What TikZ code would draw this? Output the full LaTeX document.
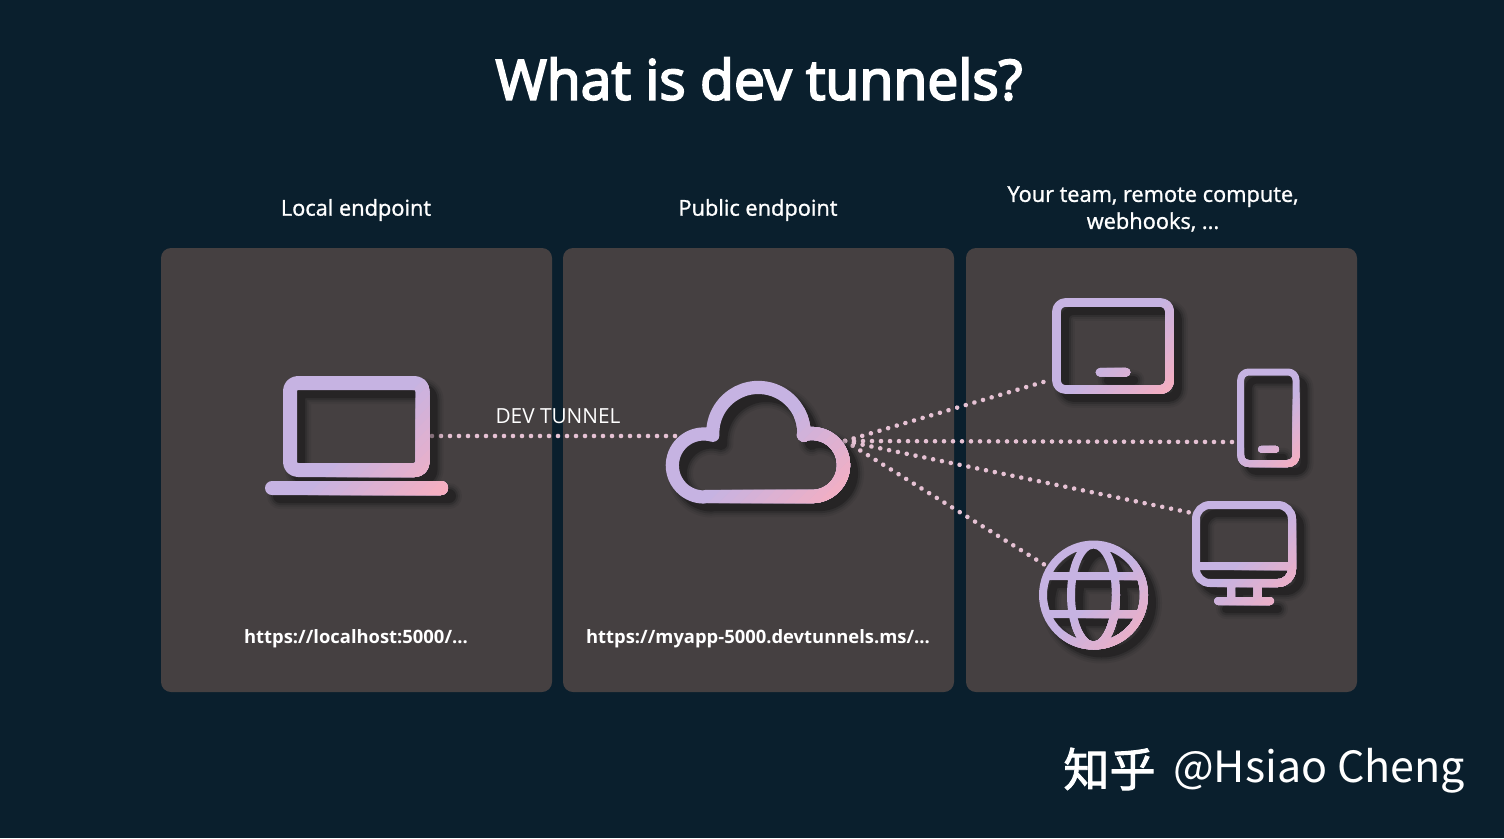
\documentclass[tikz,border=0pt]{standalone}
\usepackage{fontspec}
\setmainfont{Open Sans}
\newfontfamily\cnfont{Noto Sans CJK SC}
\newfontfamily\cnlogofont[FakeBold=2]{Noto Sans CJK SC}
\newfontfamily\semifont[FakeBold=3.5]{Open Sans}
\newfontfamily\capfont[FakeBold=1.2]{Open Sans}
\usetikzlibrary{positioning, decorations.markings}

\definecolor{bgdark}{HTML}{0A1F2D}
\definecolor{panelgray}{HTML}{454041}
\definecolor{lav}{HTML}{C6B3E2}
\definecolor{rose}{HTML}{FBAEBD}
\definecolor{dotpink}{HTML}{E6C2D4}

\tikzset{
    panel/.style={fill=panelgray, rounded corners=10pt},
    tunnel/.style={draw=none, postaction={decorate}, decoration={markings, mark=between positions 0 and 1 step 9pt with {\fill [dotpink] (0, 0) circle [radius=2.3pt];}}},
    caption/.style={white, font=\capfont\fontsize{21.8}{27}\selectfont, align=center, inner sep=0pt},
    url/.style={white, font=\bfseries\fontsize{18.4}{22}\selectfont, inner sep=0pt},
    iconline/.style={line join=round, line cap=round},
}

\newcommand{\gradicon}[4]{
    \begin{scope}[shift={(8,8)}, black, iconline]
        \draw [opacity=0.06, line width=#3pt+12pt] #4;
        \draw [opacity=0.08, line width=#3pt+8pt] #4;
        \draw [opacity=0.14, line width=#3pt+4pt] #4;
        \draw [opacity=0.22, line width=#3pt] #4;
    \end{scope}
    \draw [iconline, lav, line width=#3pt] #4;
    \foreach \i in {1,...,14} {
        \pgfmathsetmacro{\midS}{(#1 + #2*(0.5 + 0.5*\i/14))/2}
        \pgfmathsetmacro{\pct}{100*\i/14}
        \begin{scope}
            \clip (\midS+2000, \midS-2000) -- (\midS-2000, \midS+2000) -- (\midS+2000, \midS+2000) -- cycle;
            \draw [iconline, rose!\pct!lav, line width=#3pt] #4;
        \end{scope}
    }
}

\begin{document}
\begin{tikzpicture}[x=1pt, y=-1pt]
    \useasboundingbox (0, 0) rectangle (1504, 838);
    \fill [bgdark] (0, 0) rectangle (1504, 838);

    \fill [panel] (161, 248) rectangle (552, 692);
    \fill [panel] (563, 248) rectangle (954, 692);
    \fill [panel] (966, 248) rectangle (1357, 692);

    \node (title) at (759, 79) [white, inner sep=0pt, font=\semifont\fontsize{55.3}{60}\selectfont] {What is dev tunnels?};
    \node (local) at (356, 210) [caption] {Local endpoint};
    \node (public) at (758, 210) [caption] {Public endpoint};
    \node (team) at (1153, 209) [caption] {Your team, remote compute,\\webhooks, ...};
    \node (devtunnel) at (558, 416) [caption, font=\fontsize{20.8}{27}\selectfont] {DEV TUNNEL};
    \node (localurl) at (356, 639) [url] {https://localhost:5000/...};
    \node (publicurl) at (758, 639) [url] {https://myapp-5000.devtunnels.ms/...};
    \node (zhihu) at (1109.5, 769) [white, inner sep=0pt, font=\cnlogofont\fontsize{46}{50}\selectfont] {知乎};
    \node (credit) at (1319, 771) [white, inner sep=0pt, font=\cnfont\fontsize{43}{50}\selectfont] {@Hsiao Cheng};

    \coordinate (laptop) at (432, 436);
    \coordinate (cloudin) at (680, 436);
    \coordinate (cloudout) at (845, 441);
    \coordinate (tablet) at (1050, 380);
    \coordinate (phone) at (1236, 442);
    \coordinate (monitor) at (1192, 513);
    \coordinate (globe) at (1045, 565);

    \draw [tunnel] (laptop) -- (cloudin);
    \draw [tunnel] (cloudout) -- (tablet);
    \draw [tunnel] (cloudout) -- (phone);
    \draw [tunnel] (cloudout) -- (monitor);
    \draw [tunnel] (cloudout) -- (globe);

    \gradicon{641}{302}{14}{[rounded corners=8pt] (290, 383) rectangle (422.5, 470) [sharp corners] (272, 488) -- (441, 488)}
    \gradicon{1047}{306}{13.2}{(706, 496.5) -- (812, 496.5) arc (90:-106:31.5) -- (803.9, 435.4) arc (3:-183:45.6) -- (712.5, 435.2) arc (-74:-270:31.5) -- cycle}
    \gradicon{1350}{218}{8.7}{[rounded corners=9pt] (1056.5, 302.5) rectangle (1169.5, 389.5) [sharp corners] (1100, 372.3) -- (1126, 372.3)}
    \gradicon{1605}{162}{7}{[rounded corners=8pt] (1240.7, 372) rectangle (1296, 463.5) [sharp corners] (1261.5, 449.3) -- (1275.5, 449.3)}
    \gradicon{1693}{208}{8}{[rounded corners=14pt] (1196, 505) rectangle (1292, 583) [sharp corners] (1196, 566) -- (1292, 566) (1231, 585) -- (1231, 601) (1257.5, 585) -- (1257.5, 601) (1218, 601) -- (1270, 601)}
    \gradicon{1580}{217}{8}{(1093.5, 595) circle (50.5) (1093.5, 595) ellipse (22.5 and 50.5) (1046.7, 576) -- (1140.3, 576) (1046.7, 614) -- (1140.3, 614)}
\end{tikzpicture}
\end{document}
